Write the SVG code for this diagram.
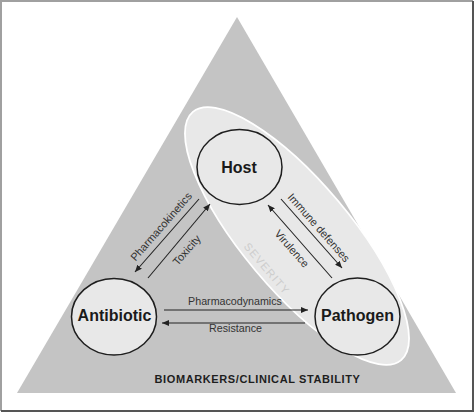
<svg xmlns="http://www.w3.org/2000/svg" width="474" height="412" viewBox="0 0 474 412">
  <style>
    .node { fill: #e8e8e8; stroke: #1e1e1e; stroke-width: 1.5; }
    .nlabel { font-family: "Liberation Sans", Arial, sans-serif; font-weight: bold; font-size: 16px; fill: #1a1a1a; text-anchor: middle; }
    .elabel { font-family: "Liberation Sans", Arial, sans-serif; font-size: 11px; fill: #333; text-anchor: middle; }
    .hlabel { font-family: "Liberation Sans", Arial, sans-serif; font-size: 10.7px; fill: #333; text-anchor: middle; }
    .conn { stroke: #222; stroke-width: 1.1; fill: none; marker-end: url(#arrow); }
  </style>
  <defs>
    <marker id="arrow" markerUnits="userSpaceOnUse" markerWidth="8" markerHeight="6" refX="7" refY="3" orient="auto">
      <path d="M0,0 L7,3 L0,6 Z" fill="#222"/>
    </marker>
  </defs>

  <rect x="0" y="0" width="474" height="412" fill="#ffffff"/>
  <path d="M1,411 V1 H473" fill="none" stroke="#a0a0a0" stroke-width="2"/>
  <path d="M473,1 V411 H1" fill="none" stroke="#555" stroke-width="2"/>

  <g id="background">
    <polygon points="237,17 17,393 456,393" fill="#c4c4c4"/>
    <ellipse cx="297" cy="236" rx="162" ry="54" transform="rotate(50 297 236)" fill="#e8e8e8" stroke="#ffffff" stroke-width="1.8"/>
    <text transform="translate(267,268.5) rotate(49.6)" y="4" font-family="Liberation Sans, Arial, sans-serif" font-size="11px" letter-spacing="1.2" fill="#cdcdcd" text-anchor="middle">SEVERITY</text>
    <text x="257.5" y="383" font-family="Liberation Sans, Arial, sans-serif" font-size="11px" font-weight="bold" letter-spacing="0.6" fill="#1e1e1e" text-anchor="middle">BIOMARKERS/CLINICAL STABILITY</text>
  </g>

  <g id="connectors">
    <line class="conn" x1="199" y1="199" x2="135" y2="272"/>
    <line class="conn" x1="148" y1="278" x2="210" y2="204"/>
    <line class="conn" x1="281" y1="199" x2="342" y2="268"/>
    <line class="conn" x1="332" y1="278" x2="268" y2="205"/>
    <line class="conn" x1="164" y1="310" x2="308" y2="310"/>
    <line class="conn" x1="305" y1="323" x2="162" y2="323"/>
    <text class="elabel" transform="translate(161,226.5) rotate(-48.8)" y="4">Pharmacokinetics</text>
    <text class="elabel" transform="translate(186.5,250) rotate(-48.8)" y="4">Toxicity</text>
    <text class="elabel" transform="translate(319,227.5) rotate(48.5)" y="4">Immune defenses</text>
    <text class="elabel" transform="translate(292,248.5) rotate(48.5)" y="4">Virulence</text>
    <text class="hlabel" x="235" y="304.5">Pharmacodynamics</text>
    <text class="hlabel" x="235.5" y="331.5">Resistance</text>
  </g>

  <g id="node-host">
    <ellipse class="node" cx="239.5" cy="167" rx="42.5" ry="37.5"/>
    <text class="nlabel" x="239" y="172.5">Host</text>
  </g>
  <g id="node-antibiotic">
    <ellipse class="node" cx="114" cy="316.7" rx="42.5" ry="38.3"/>
    <text class="nlabel" x="114.5" y="320.5">Antibiotic</text>
  </g>
  <g id="node-pathogen">
    <ellipse class="node" cx="357.5" cy="316.5" rx="42.5" ry="38.5"/>
    <text class="nlabel" x="357.5" y="320.5">Pathogen</text>
  </g>
</svg>
